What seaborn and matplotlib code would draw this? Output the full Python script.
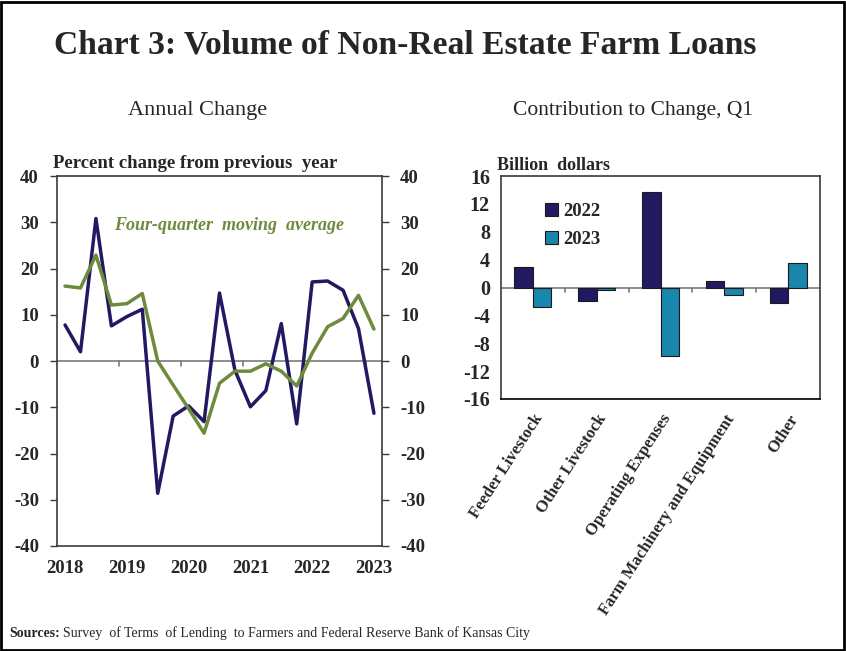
import numpy as np
import pandas as pd
import matplotlib
matplotlib.use('Agg')
import matplotlib.pyplot as plt
import seaborn as sns
from matplotlib.patches import Rectangle

# ---- data ----
years = ['2018', '2019', '2020', '2021', '2022', '2023']
quarters = list(range(21))  # 2018Q1 .. 2023Q1
annual_change = [7.8, 2.0, 30.8, 7.6, 9.6, 11.2, -28.6, -11.9, -9.7, -13.1,
                 14.7, -2.0, -9.9, -6.4, 8.1, -13.6, 17.1, 17.3, 15.3, 7.0, -11.3]
moving_avg = [16.2, 15.8, 22.9, 12.1, 12.4, 14.6, 0.0, -5.2, -10.3, -15.6,
              -4.8, -2.2, -2.2, -0.6, -2.2, -5.4, 1.7, 7.4, 9.2, 14.2, 6.9]

categories = ['Feeder Livestock', 'Other Livestock', 'Operating Expenses',
              'Farm Machinery and Equipment', 'Other']
contrib_2022 = [3.0, -1.9, 13.7, 1.0, -2.2]
contrib_2023 = [-2.8, -0.3, -9.8, -1.1, 3.5]

NAVY = '#211A63'
GREEN = '#6E8B3D'
TEAL = '#1B86AB'
FRAME = '#3a3a3a'

sns.set_style('white')
plt.rcParams['font.family'] = ['Liberation Serif', 'DejaVu Serif']
plt.rcParams['axes.unicode_minus'] = False

fig = plt.figure(figsize=(8.46, 6.51), dpi=100)

# title + subtitles
fig.text(0.064, 0.931, 'Chart 3: Volume of Non-Real Estate Farm Loans',
         fontsize=24.2, fontweight='bold', va='center')
fig.text(0.233, 0.831, 'Annual Change', fontsize=16, ha='center', va='center')
fig.text(0.748, 0.831, 'Contribution to Change, Q1', fontsize=15.5, ha='center', va='center')

# ---------------- left: annual change ----------------
ax1 = fig.add_axes([0.0674, 0.1613, 0.3841, 0.5683])
line_df = pd.DataFrame({
    'q': quarters * 2,
    'val': annual_change + moving_avg,
    'series': ['Annual'] * len(quarters) + ['Four-quarter moving average'] * len(quarters),
})
ax1.axhline(0, color='#7a7a7a', lw=1.2, zorder=1)
sns.lineplot(data=line_df, x='q', y='val', hue='series',
             palette=[NAVY, GREEN], lw=2.5, legend=False, ax=ax1, zorder=3)
# small marks on zero line between years
for b in range(3, len(quarters) - 1, 4):
    ax1.plot([b + 0.5, b + 0.5], [0, -1.1], color='#7a7a7a', lw=1.2, zorder=1)

ax1.set_xlim(-0.52, 20.52)
ax1.set_ylim(-40, 40)
ax1.set_yticks(range(-40, 41, 10))
ax1.set_xticks(range(0, 21, 4))
ax1.set_xticklabels(years)
ax1.set_xlabel('')
ax1.set_ylabel('')
ax1.tick_params(axis='y', direction='out', length=5, width=1, color=FRAME,
                left=True, right=True, labelleft=True, labelright=True,
                labelsize=13.5, pad=8)
ax1.tick_params(axis='x', length=0, labelsize=13.5, pad=10)
for lbl in ax1.get_xticklabels():
    lbl.set_fontweight('bold')
for t in ax1.yaxis.get_major_ticks():
    t.label1.set_fontweight('bold')
    t.label2.set_fontweight('bold')
for s in ax1.spines.values():
    s.set_color(FRAME)
    s.set_linewidth(1.2)
ax1.text(-0.012, 1.01, 'Percent change from previous  year', transform=ax1.transAxes,
         fontsize=13.5, fontweight='bold', va='bottom', ha='left')
ax1.text(0.175, 0.865, 'Four-quarter  moving  average', transform=ax1.transAxes,
         fontsize=13, fontweight='bold', style='italic', color=GREEN, va='center')

# ---------------- right: contribution ----------------
ax2 = fig.add_axes([0.5922, 0.3871, 0.3771, 0.3425])
bar_df = pd.DataFrame({
    'cat': categories * 2,
    'val': contrib_2022 + contrib_2023,
    'year': ['2022'] * len(categories) + ['2023'] * len(categories),
})
ax2.axhline(0, color='#7a7a7a', lw=1.2, zorder=1)
sns.barplot(data=bar_df, x='cat', y='val', hue='year', palette=[NAVY, TEAL],
            saturation=1, width=0.58, edgecolor='#1a1a1a', linewidth=0.8,
            ax=ax2, zorder=2)
for b in range(len(categories) - 1):
    ax2.plot([b + 0.5, b + 0.5], [0, -0.7], color='#7a7a7a', lw=1.2, zorder=1)
ax2.set_xlim(-0.5, 4.5)
ax2.set_ylim(-16, 16)
ax2.set_yticks(range(-16, 17, 4))
ax2.set_xlabel('')
ax2.set_ylabel('')
ax2.tick_params(axis='y', direction='out', length=5, width=1, color=FRAME,
                labelsize=14.5, pad=3)
ax2.tick_params(axis='x', length=0, pad=9)
ax2.set_xticks(range(len(categories)))
ax2.set_xticklabels(categories, rotation=57, ha='right', rotation_mode='anchor',
                    fontsize=12, fontweight='bold')
for lbl in ax2.get_yticklabels():
    lbl.set_fontweight('bold')
for s in ax2.spines.values():
    s.set_color(FRAME)
    s.set_linewidth(1.2)
ax2.spines['bottom'].set_color('black')
ax2.text(-0.012, 1.01, 'Billion  dollars', transform=ax2.transAxes,
         fontsize=13, fontweight='bold', va='bottom', ha='left')
leg = ax2.legend(loc='upper left', bbox_to_anchor=(0.085, 0.955), frameon=False,
                 handlelength=0.7, handleheight=0.7, handletextpad=0.3,
                 labelspacing=0.6, prop={'weight': 'bold', 'size': 13.5})

# sources
src_lbl = fig.text(0.011, 0.027, 'Sources:', fontsize=10, fontweight='bold', va='center')
fig.canvas.draw()
bb = src_lbl.get_window_extent().transformed(fig.transFigure.inverted())
fig.text(bb.x1 + 0.004, 0.027,
         'Survey  of Terms  of Lending  to Farmers and Federal Reserve Bank of Kansas City',
         fontsize=10, va='center')

# outer frame
fig.add_artist(Rectangle((0.001, 0.002), 0.997, 0.995, transform=fig.transFigure,
                         fill=False, edgecolor='black', lw=2))

fig.savefig('out.png', dpi=100)
